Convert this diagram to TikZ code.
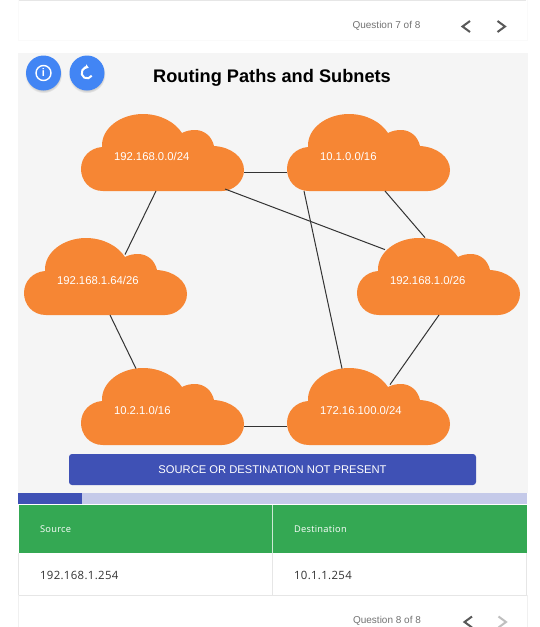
\documentclass[tikz,border=0pt]{standalone}
\usepackage{xcolor}
\usepackage{fontspec}
\setmainfont{Liberation Sans}
\newfontfamily\tablefont[LetterSpace=3]{Open Sans}
\usetikzlibrary{arrows.meta,shadows}
\definecolor{netorange}{HTML}{F68634}
\definecolor{panelgrey}{HTML}{F5F5F5}
\definecolor{btnblue}{HTML}{4285F4}
\definecolor{barindigo}{HTML}{3F51B5}
\definecolor{barlight}{HTML}{C5CAE9}
\definecolor{headgreen}{HTML}{34A853}
\definecolor{cardline}{HTML}{E6E6E6}
\begin{document}
\begin{tikzpicture}[
    x=1pt,y=-1pt,
    netcloud/.pic={
      \fill[netorange] (22,77) .. controls (8,77) and (0,66) .. (0,55)
        .. controls (0,43) and (9,34) .. (21,33)
        .. controls (20,14) and (40,0) .. (62,0)
        .. controls (79,0) and (94,8) .. (101,19)
        .. controls (105,17) and (109,16) .. (114,16)
        .. controls (124,16) and (131,23) .. (133,32)
        .. controls (150,33) and (163,43) .. (163,56)
        .. controls (163,68) and (152,77) .. (141,77) -- cycle;
    },
    netbox/.style={anchor=south,minimum height=68pt,inner xsep=33pt,inner ysep=0pt,
      text width=97pt,align=left,text=white,font=\fontsize{11.3}{13}\selectfont},
    link/.style={draw=black!80,line width=1pt},
    counter/.style={text=black!55,font=\fontsize{10}{12}\selectfont},
    chevron/.style={line width=2pt,draw=black!65},
    roundbtn/.style={circle,fill=btnblue,minimum size=35pt,inner sep=0pt,
      circular drop shadow={shadow xshift=0pt,shadow yshift=-1.5pt,shadow scale=1.06,opacity=0.35}},
    cellhead/.style={anchor=west,text=white,font=\tablefont\fontsize{9.3}{11}\selectfont},
    cellval/.style={anchor=west,text=black!80,font=\tablefont\fontsize{11.4}{13}\selectfont}
  ]
    \useasboundingbox (0,0) rectangle (540,627);
    \fill[white] (0,0) rectangle (540,627);
    % top card
    \draw[cardline,line width=0.8pt] (18,0.5) -- (526,0.5);
    \draw[black!2] (18,0) -- (18,40) -- (527,40) -- (527,0);
    \node[counter] (count7) at (386.5,26) {Question 7 of 8};
    \coordinate (prev7) at (466,26.5);
    \coordinate (next7) at (501,26.5);
    \draw[chevron] ([xshift=4pt,yshift=5.5pt]prev7) -- ([xshift=-3.5pt]prev7) -- ([xshift=4pt,yshift=-5.5pt]prev7);
    \draw[chevron] ([xshift=-3.5pt,yshift=5.5pt]next7) -- ([xshift=4pt]next7) -- ([xshift=-3.5pt,yshift=-5.5pt]next7);
    % panel
    \fill[panelgrey] (18,53) rectangle (528,493);
    \node[roundbtn] (infobtn) at (43.5,73) {};
    \node[roundbtn] (reloadbtn) at (87,73) {};
    \draw[white,line width=1.4pt] (infobtn) circle[radius=7.5pt];
    \node[text=white,font=\bfseries\fontsize{11}{11}\selectfont] (infomark) at (infobtn) {i};
    \draw[white,line width=2pt,-{Latex[length=3.5pt,width=5.5pt]}] ([xshift=4.7pt,yshift=-2.7pt]reloadbtn.center)
      arc[start angle=-30,end angle=-290,radius=5.4pt];
    \node[font=\bfseries\fontsize{18.2}{22}\selectfont] (title) at (272,77.5) {Routing Paths and Subnets};
    % clouds
    \foreach \nm/\cx/\cy/\addr/\mask in {net1/81/114/192.168.0.0/24,net2/287/114/10.1.0.0/16,
        net3/24/238/192.168.1.64/26,net4/357/238/192.168.1.0/26,
        net5/81/368/10.2.1.0/16,net6/287/368/172.16.100.0/24}{
      \pic at (\cx,\cy) {netcloud};
      \node[netbox] (\nm) at (\cx+81.5,\cy+77) {\addr/\mask};
    }
    \draw[link] ([yshift=-16pt]net1.east) -- ([yshift=-16pt]net2.west);
    \draw[link] ([xshift=-6.5pt]net1.south) -- ([xshift=19.5pt,yshift=-8pt]net3.north);
    \draw[link] ([xshift=62.5pt,yshift=2pt]net1.south) -- ([xshift=-53.5pt,yshift=-3pt]net4.north);
    \draw[link] ([xshift=16.5pt]net2.south) -- ([xshift=-13.5pt,yshift=9pt]net4.north);
    \draw[link] ([xshift=-64.5pt]net2.south) -- ([xshift=-26.5pt,yshift=8pt]net6.north);
    \draw[link] ([xshift=4.5pt]net3.south) -- ([xshift=-26.5pt,yshift=8pt]net5.north);
    \draw[link] ([xshift=0.5pt]net4.south) -- ([xshift=21.5pt,yshift=-8pt]net6.north);
    \draw[link] ([yshift=-16pt]net5.east) -- ([yshift=-16pt]net6.west);
    % status button and bar
    \node[fill=barindigo,rounded corners=3pt,minimum width=407pt,minimum height=31pt,inner sep=0pt,
      text=white,font=\fontsize{11.2}{14}\selectfont] (status) at (272.5,469.5) {SOURCE OR DESTINATION NOT PRESENT};
    \fill[barlight] (18,493) rectangle (527,504);
    \fill[barindigo] (18,493) rectangle (82,504);
    % table
    \fill[headgreen] (18.5,505) rectangle (526.5,553);
    \draw[white!75!headgreen,line width=0.8pt] (272.5,505) -- (272.5,553);
    \draw[cardline,line width=0.8pt] (18.5,553) -- (18.5,595) -- (526.5,595) -- (526.5,553);
    \draw[cardline,line width=0.8pt] (272.5,553) -- (272.5,595);
    \node[cellhead] (srchead) at (36.5,529) {Source};
    \node[cellhead] (dsthead) at (290.5,529) {Destination};
    \node[cellval] (srcval) at (36.5,575) {192.168.1.254};
    \node[cellval] (dstval) at (290.5,575) {10.1.1.254};
    % bottom card
    \draw[black!6] (18,595) -- (18,627);
    \draw[black!6] (527,595) -- (527,627);
    \node[counter] (count8) at (387,621) {Question 8 of 8};
    \coordinate (prev8) at (468,622);
    \coordinate (next8) at (502,622);
    \draw[chevron] ([xshift=4pt,yshift=5.5pt]prev8) -- ([xshift=-3.5pt]prev8) -- ([xshift=4pt,yshift=-5.5pt]prev8);
    \draw[chevron,draw=black!25] ([xshift=-3.5pt,yshift=5.5pt]next8) -- ([xshift=4pt]next8) -- ([xshift=-3.5pt,yshift=-5.5pt]next8);
  \end{tikzpicture}
\end{document}
